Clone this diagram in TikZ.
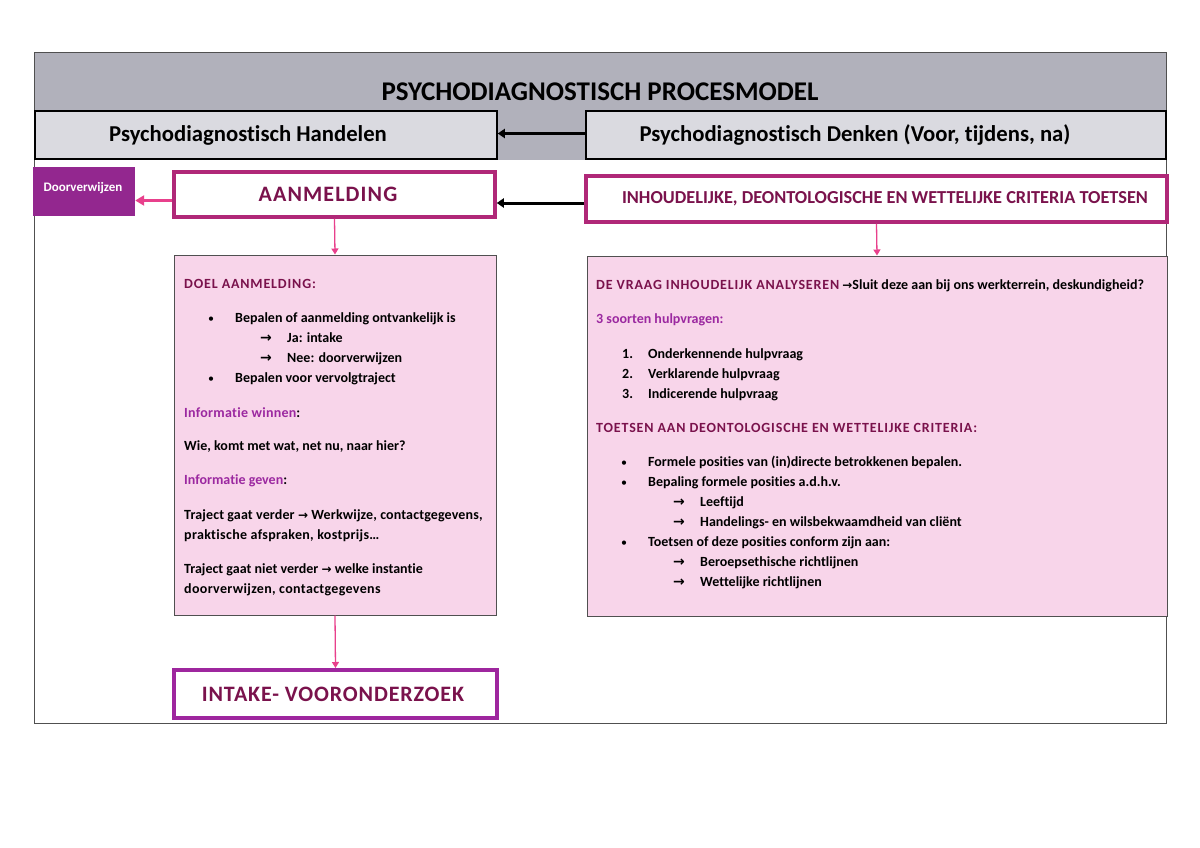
\documentclass[tikz,border=0pt]{standalone}
\usepackage{fontspec}
\setmainfont{Carlito}[Ligatures=NoCommon]
\newfontfamily\symf{DejaVu Sans}
\usetikzlibrary{arrows.meta}
\definecolor{hdrgray}{RGB}{177,177,187}
\definecolor{subgray}{RGB}{218,218,224}
\definecolor{doorpurp}{RGB}{147,39,143}
\definecolor{magborder}{RGB}{176,40,120}
\definecolor{dmag}{RGB}{122,18,76}
\definecolor{pinkarrow}{RGB}{232,64,140}
\definecolor{pinkfill}{RGB}{248,213,234}
\definecolor{intpurp}{RGB}{158,38,158}
\definecolor{purptxt}{RGB}{155,40,160}
\definecolor{framegray}{RGB}{80,80,80}
\newcommand{\arr}{{\symf\bfseries\fontsize{14}{16}\selectfont →}}
\newcommand{\sparr}{{\symf\fontsize{12}{14}\selectfont →}}
\newcommand{\bul}{{\mdseries\fontsize{12}{14}\selectfont\textbullet}}
\newcommand{\lsp}[1]{\addfontfeatures{LetterSpace=#1}}
\begin{document}
\begin{tikzpicture}[x=1pt,y=-1pt,
  subbox/.style={draw=black,line width=1.5pt,fill=subgray,inner sep=0pt},
  subtxt/.style={inner sep=0pt,font=\fontsize{22.7}{26}\selectfont\bfseries},
  magbox/.style={draw=magborder,line width=3.5pt,fill=white,inner sep=0pt},
  boxtxt/.style={inner sep=0pt,text=dmag},
  pinkbox/.style={draw=framegray,line width=1pt,fill=pinkfill,inner sep=0pt},
  blackarrow/.style={draw=black,line width=3pt,-{Triangle[length=7pt,width=9pt]}},
  pinkarr/.style={draw=pinkarrow,line width=1.3pt,-{Triangle[length=6pt,width=7pt]}},
  txt/.style={anchor=base west,inner sep=0pt,font=\fontsize{14}{16}\selectfont\bfseries},
  hd/.style={txt,text=dmag,font=\fontsize{14}{16}\selectfont\bfseries\lsp{6}},
]
\useasboundingbox (0,0) rectangle (1200,848);
% frame and header
\fill[hdrgray] (34,53) rectangle (1166,160);
\draw[framegray,line width=1pt] (34,53) rectangle (1166,723);
\node[inner sep=0pt,font=\fontsize{27}{32}\selectfont\bfseries] (title) at (600,92) {PSYCHODIAGNOSTISCH PROCESMODEL};
\node[subbox,minimum width=462pt,minimum height=48pt] (hand) at (266,135) {};
\node[subtxt] (handt) at (248,135) {Psychodiagnostisch Handelen};
\node[subbox,minimum width=580pt,minimum height=48pt] (denk) at (876,135) {};
\node[subtxt] (denkt) at (855,135) {Psychodiagnostisch Denken (Voor, tijdens, na)};
% top row boxes
\node[fill=doorpurp,inner sep=0pt,minimum width=102pt,minimum height=49pt] (door) at (84,191.5) {};
\node[text=white,inner sep=0pt,font=\fontsize{13}{15}\selectfont\bfseries] (doort) at (83,188) {Doorverwijzen};
\node[magbox,minimum width=321pt,minimum height=45pt] (aanm) at (334.5,194.5) {};
\node[boxtxt,font=\fontsize{22}{26}\selectfont\bfseries\lsp{5}] (aanmt) at (328,194.5) {AANMELDING};
\node[magbox,minimum width=581pt,minimum height=46pt] (inh) at (876.5,199) {};
\node[boxtxt,font=\fontsize{18.3}{21}\selectfont\bfseries] (inht) at (885,199) {INHOUDELIJKE, DEONTOLOGISCHE EN WETTELIJKE CRITERIA TOETSEN};
\node[pinkbox,minimum width=322pt,minimum height=360pt] (lbox) at (335,435) {};
\node[pinkbox,minimum width=580pt,minimum height=360pt] (rbox) at (877,436) {};
\node[magbox,draw=intpurp,line width=4pt,minimum width=323pt,minimum height=48pt] (intake) at (335.5,694) {};
\node[boxtxt,font=\fontsize{22}{26}\selectfont\bfseries\lsp{4}] (intaket) at (333,694) {INTAKE- VOORONDERZOEK};
% connectors
\coordinate (denkw) at ([yshift=1.5pt]denk.west);
\draw[blackarrow] (denkw) -- (hand.east |- denkw);
\coordinate (inhw) at ([yshift=-4pt]inh.west);
\draw[blackarrow] (inhw) -- (aanm.east |- inhw);
\coordinate (aanmw) at ([yshift=-6pt]aanm.west);
\draw[draw=pinkarrow,line width=3pt,-{Triangle[length=9pt,width=10pt]}] (aanmw) -- (door.east |- aanmw);
\draw[pinkarr] (aanm.south) -- (lbox.north);
\draw[pinkarr] (inh.south) -- (rbox.north);
\draw[pinkarr] (lbox.south) -- (intake.north);
% left box text
\node[hd] (l1) at (184,288) {DOEL AANMELDING:};
\node[txt] (lb1) at (208,322) {\bul};
\node[txt] (l2) at (235,322) {Bepalen of aanmelding ontvankelijk is};
\node[txt] (la1) at (260,342) {\arr};
\node[txt] (l3) at (287,342) {Ja: intake};
\node[txt] (la2) at (260,362) {\arr};
\node[txt] (l4) at (287,362) {Nee: doorverwijzen};
\node[txt] (lb2) at (208,382) {\bul};
\node[txt] (l5) at (235,382) {Bepalen voor vervolgtraject};
\node[txt] (l6) at (184,417) {{\color{purptxt}\lsp{2}Informatie winnen}:};
\node[txt] (l7) at (184,450) {Wie, komt met wat, net nu, naar hier?};
\node[txt] (l8) at (184,484) {{\color{purptxt}Informatie geven}:};
\node[txt,font=\fontsize{14}{16}\selectfont\bfseries\lsp{1}] (l9) at (184,519) {Traject gaat verder \sparr{} Werkwijze, contactgegevens,};
\node[txt,font=\fontsize{14}{16}\selectfont\bfseries\lsp{2.3}] (l10) at (184,539) {praktische afspraken, kostprijs…};
\node[txt] (l11) at (184,573) {Traject gaat niet verder \sparr{} welke instantie};
\node[txt,font=\fontsize{14}{16}\selectfont\bfseries\lsp{2.4}] (l12) at (184,593) {doorverwijzen, contactgegevens};
% right box text
\node[txt] (r1) at (596,289) {{\color{dmag}\lsp{6}DE VRAAG INHOUDELIJK ANALYSEREN} \sparr{}Sluit deze aan bij ons werkterrein, deskundigheid?};
\node[txt,text=purptxt] (r2) at (596,323) {3 soorten hulpvragen:};
\node[txt] (rn1) at (622,358) {1.};
\node[txt] (r3) at (648,358) {Onderkennende hulpvraag};
\node[txt] (rn2) at (622,378) {2.};
\node[txt] (r4) at (648,378) {Verklarende hulpvraag};
\node[txt] (rn3) at (622,398) {3.};
\node[txt] (r5) at (648,398) {Indicerende hulpvraag};
\node[hd] (r6) at (596,432) {TOETSEN AAN DEONTOLOGISCHE EN WETTELIJKE CRITERIA:};
\node[txt] (rb1) at (621,466) {\bul};
\node[txt] (r7) at (648,466) {Formele posities van (in)directe betrokkenen bepalen.};
\node[txt] (rb2) at (621,486) {\bul};
\node[txt] (r8) at (648,486) {Bepaling formele posities a.d.h.v.};
\node[txt] (ra1) at (673,506) {\arr};
\node[txt] (r9) at (700,506) {Leeftijd};
\node[txt] (ra2) at (673,526) {\arr};
\node[txt] (r10) at (700,526) {Handelings- en wilsbekwaamdheid van cliënt};
\node[txt] (rb3) at (621,546) {\bul};
\node[txt] (r11) at (648,546) {Toetsen of deze posities conform zijn aan:};
\node[txt] (ra3) at (673,566) {\arr};
\node[txt] (r12) at (700,566) {Beroepsethische richtlijnen};
\node[txt] (ra4) at (673,586) {\arr};
\node[txt] (r13) at (700,586) {Wettelijke richtlijnen};
\end{tikzpicture}
\end{document}
